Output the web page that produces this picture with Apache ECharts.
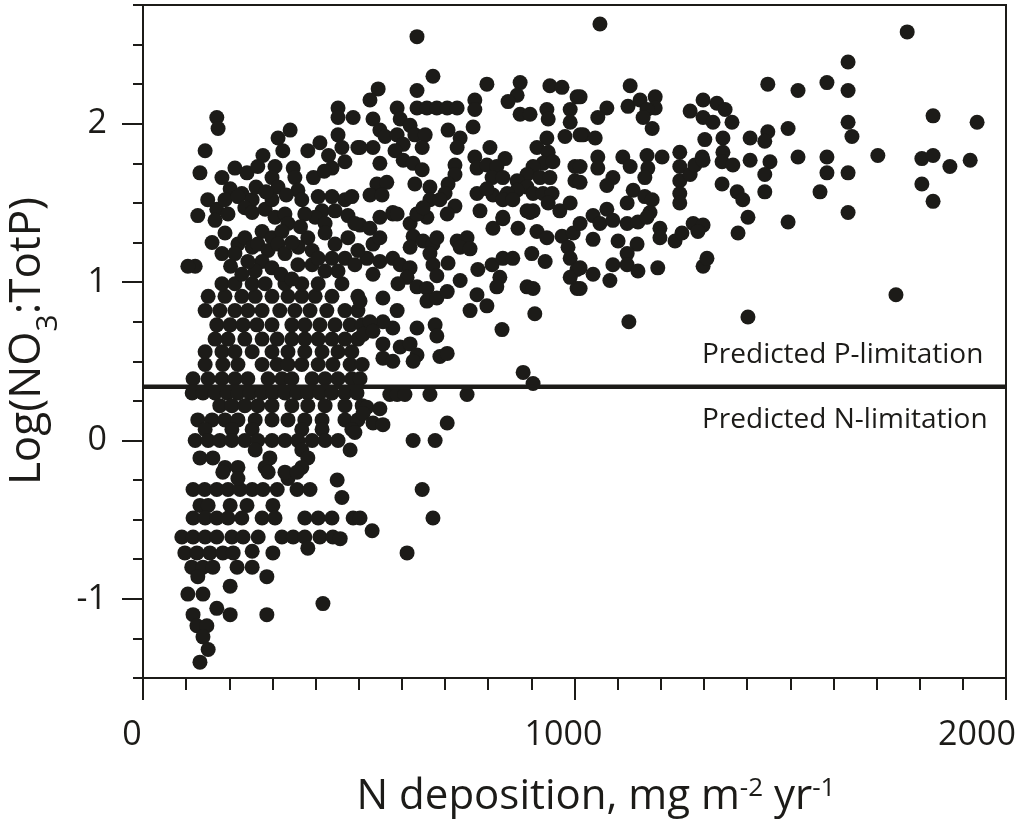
<!DOCTYPE html>
<html><head><meta charset="utf-8">
<script src="https://cdn.jsdelivr.net/npm/echarts@6/dist/echarts.min.js"></script>
<style>html,body{margin:0;padding:0;background:#fff}#c{width:1024px;height:834px}</style>
</head><body><div id="c"></div>
<script>
// ---- data (x = N deposition mg m-2 yr-1, y = log NO3:TotP) ----
const xMajorTicks = [0, 1000, 2000];
const yMajorTicks = [-1, 0, 1, 2];
const limitThreshold = 0.34;

const pointsLow = [
[116,-0.31],[143,-0.31],[171,-0.31],[197,-0.31],[225,-0.31],[253,-0.31],[278,-0.31],[311,-0.31],[357,-0.31],[387,-0.31],
[450,-0.25],[461,-0.36],
[132,-0.41],[151,-0.41],[202,-0.41],[241,-0.41],[301,-0.41],
[116,-0.49],[144,-0.49],[171,-0.49],[197,-0.49],[229,-0.49],[276,-0.49],[306,-0.49],[375,-0.49],[406,-0.49],[438,-0.49],[487,-0.49],[503,-0.49],[672,-0.49],
[90,-0.61],[116,-0.61],[144,-0.61],[171,-0.61],[206,-0.61],[232,-0.61],[267,-0.61],[322,-0.61],[348,-0.61],[375,-0.61],[410,-0.61],[440,-0.61],[457,-0.62],
[382,-0.68],[253,-0.70],[531,-0.57],[647,-0.31],
[97,-0.71],[125,-0.71],[155,-0.71],[185,-0.71],[209,-0.71],[301,-0.71],[612,-0.71],
[113,-0.80],[139,-0.80],[162,-0.80],[218,-0.80],[253,-0.80],
[127,-0.86],[287,-0.86],[202,-0.92],[104,-0.97],[139,-0.97],
[417,-1.03],[171,-1.06],[116,-1.10],[202,-1.10],[287,-1.10],
[125,-1.17],[148,-1.17],[139,-1.24],[151,-1.32],[132,-1.40]
];

const pointsNearZero = [
[114,0.3],[139,0.3],[167,0.3],[195,0.3],[220,0.3],[248,0.3],[276,0.3],[301,0.3],[329,0.3],[357,0.3],[382,0.3],[410,0.3],[438,0.3],[468,0.3],[496,0.3],[572,0.29],[589,0.29],[607,0.29],[665,0.29],[751,0.29],
[178,0.22],[206,0.22],[236,0.22],[266,0.22],[299,0.22],[345,0.22],[382,0.22],[422,0.22],[468,0.22],[508,0.22],[519,0.21],[549,0.2],
[127,0.13],[160,0.13],[190,0.13],[220,0.13],[260,0.13],[299,0.13],[336,0.13],[375,0.13],[415,0.13],[468,0.13],[498,0.13],[510,0.17],[533,0.11],[556,0.10],[705,0.11],
[144,0.07],[206,0.07],[253,0.07],[368,0.07],[415,0.07],[484,0.07],[491,0.05],
[121,0],[151,0],[178,0],[206,0],[236,0],[266,0],[299,0],[329,0],[359,0],[392,0],[422,0],[452,0],[626,0],[677,0],
[260,-0.06],[368,-0.06],[480,-0.06],
[132,-0.11],[162,-0.11],[294,-0.11],[382,-0.11],
[190,-0.17],[220,-0.17],[283,-0.17],[368,-0.17],
[220,-0.24],[336,-0.24],
[185,-0.2],[290,-0.2],[329,-0.2],[357,-0.2]
];

const pointsLeftMid = [
[116,0.39],[151,0.39],[183,0.39],[213,0.39],[243,0.39],[290,0.39],[322,0.39],[345,0.39],[392,0.39],[422,0.39],[452,0.39],[484,0.39],[503,0.39],
[144,0.48],[185,0.48],[220,0.48],[276,0.48],[311,0.48],[336,0.48],[368,0.48],[406,0.48],[440,0.48],[480,0.48],[508,0.48],
[144,0.56],[183,0.56],[213,0.56],[253,0.56],[299,0.56],[336,0.56],[375,0.56],[415,0.56],[452,0.56],[484,0.56],
[167,0.64],[197,0.64],[236,0.64],[276,0.64],[311,0.64],[345,0.64],[375,0.64],[406,0.64],[438,0.64],[468,0.64],[498,0.64],
[171,0.73],[202,0.73],[232,0.73],[264,0.73],[299,0.73],[345,0.73],[375,0.73],[410,0.73],[445,0.73],[480,0.73],[508,0.73],
[144,0.82],[178,0.82],[213,0.82],[243,0.82],[276,0.82],[317,0.82],[352,0.82],[387,0.82],[426,0.82],[468,0.82],[498,0.82],
[151,0.91],[190,0.91],[229,0.91],[260,0.91],[299,0.91],[336,0.91],[368,0.91],[399,0.91],[438,0.91],[498,0.91],
[183,0.99],[213,0.99],[253,0.99],[283,0.99],[329,0.99],[368,0.99],[406,0.99],[461,0.99]
];

const pointsCentreMid = [
[503,1.36],[526,1.34],[533,1.24],[549,1.28],[519,1.15],[549,1.13],[533,1.05],[579,1.43],[619,1.37],[626,1.29],[635,1.43],[658,1.41],[649,1.26],[672,1.24],[681,1.28],[665,1.18],[619,1.22],[579,1.15],[596,1.11],[619,1.09],[612,1.03],[591,0.99],[635,0.97],[658,0.96],[658,0.88],[681,0.90],[672,1.11],[681,1.04],[705,0.94],[707,1.12],[728,1.26],[751,1.28],[735,1.22],[758,1.21],[735,1.01],[774,0.92],[758,0.82],[797,0.85],[776,1.08],[809,1.11],[834,1.15],[857,1.15],[827,1.03],[820,0.97],[811,1.34],[834,1.40],[869,1.34],[897,1.44],[913,1.32],[936,1.28],[901,1.18],[932,1.13],[890,0.97],[904,0.96],[908,0.80],[971,1.29],[997,1.31],[985,1.22],[990,1.15],[1006,1.08],[990,1.03],[1006,0.96],
[556,0.90],[589,0.82],[579,0.71],[556,0.75],[526,0.75],[503,0.88],[510,0.67],[533,0.69],[556,0.61],[556,0.52],[579,0.50],[596,0.59],[619,0.61],[635,0.71],[635,0.54],[626,0.50],[677,0.73],[681,0.66],[688,0.53],[705,0.55],[832,0.70],[881,0.43],[904,0.36]
];

const pointsLeftHigh = [
[171,2.04],[174,1.97],[144,1.83],[132,1.69],[127,1.42],[121,1.10],[104,1.10],
[341,1.96],[313,1.91],[324,1.83],[382,1.83],[278,1.80],
[213,1.72],[241,1.69],[266,1.73],[306,1.73],[348,1.72],
[183,1.66],[202,1.59],[229,1.56],[253,1.52],
[299,1.66],[313,1.60],[352,1.66],[359,1.58],[368,1.52],
[171,1.46],[190,1.52],[220,1.54],
[167,1.39],[197,1.43],[236,1.47],[253,1.44],
[283,1.46],[299,1.52],[306,1.41],[329,1.43],[336,1.37],
[406,1.54],[438,1.54],[468,1.52],[484,1.54],
[415,1.45],[399,1.41],[445,1.45],[422,1.37],[475,1.42],[491,1.37],
[452,2.10],[452,2.04],[487,2.04],
[452,1.93],[461,1.85],[438,1.72],[468,1.76],[498,1.85],
[190,1.31],[220,1.24],[236,1.28],[183,1.18],[213,1.18],[253,1.22],
[276,1.32],[299,1.28],[322,1.32],[266,1.24],[290,1.20],[313,1.24],[329,1.18],[276,1.13],[299,1.09],[260,1.07],
[382,1.28],[392,1.20],[359,1.11],[392,1.11],[422,1.31],[445,1.24],[475,1.28],[406,1.15],[438,1.15],[468,1.15],[498,1.20],[491,1.11],[452,1.07],[422,1.07],
[243,1.13],[229,1.05],[320,1.05],[345,1.02],[360,1.22],[203,1.10],[160,1.25],[150,1.52],[262,1.60],[285,1.57],[332,1.55],[375,1.43],[395,1.66],[420,1.70],[410,1.88],[430,1.80],[365,1.35],[345,1.25]
];

const pointsCentreHigh = [
[635,2.55],[672,2.30],[635,2.21],[635,2.10],[658,2.10],[681,2.10],[705,2.10],[728,2.10],
[545,2.22],[526,2.15],[589,2.10],[596,2.03],[619,1.99],
[533,2.03],[549,1.96],[533,1.85],[561,1.92],[503,1.85],
[589,1.93],[603,1.87],[584,1.83],[630,1.93],[654,1.93],[647,1.85],[603,1.77],[626,1.75],[647,1.71],[630,1.62],
[549,1.75],[542,1.62],[565,1.63],[526,1.55],[554,1.55],[579,1.44],
[707,1.96],[735,1.91],[728,1.85],
[723,1.74],[723,1.68],[707,1.62],[700,1.56],[665,1.60],[665,1.52],[688,1.52],
[723,1.48],[705,1.43],[635,1.43],[649,1.47],
[769,2.15],[769,2.09],[765,1.98],[797,2.25],
[874,2.26],[867,2.18],[846,2.14],[874,2.06],[897,2.06],[936,2.09],[939,2.03],
[943,2.24],[971,2.23],[1006,2.17],[990,2.09],[990,2.01],[978,1.92],[1020,1.93],
[769,1.79],[804,1.85],[839,1.78],[774,1.72],[797,1.74],[820,1.73],[809,1.66],[834,1.66],
[936,1.91],[913,1.85],[939,1.82],[927,1.75],[950,1.76],[904,1.73],[890,1.68],[867,1.64],[890,1.60],[920,1.66],[943,1.66],[867,1.58],[844,1.56],[811,1.55],[774,1.56],[797,1.59],[834,1.52],[857,1.52],[904,1.56],[927,1.56],[948,1.56],[939,1.50],[966,1.45],[990,1.50],[904,1.45],[890,1.45],
[549,1.41],[589,1.43],[781,1.45],[834,1.41],[1001,1.73],[1001,1.64]
];

const pointsRight = [
[1059,2.63],[1129,2.24],[1448,2.25],[1518,2.21],[1013,2.17],[1075,2.10],[1054,2.04],
[1124,2.11],[1152,2.15],[1187,2.17],[1187,2.10],[1168,2.09],[1159,2.04],[1180,1.97],
[1013,1.93],[1048,1.91],
[1268,2.08],[1298,2.15],[1330,2.13],[1349,2.09],[1365,2.01],[1298,2.04],[1321,2.01],[1302,1.90],
[1344,1.91],[1344,1.82],[1342,1.76],[1367,1.74],
[1407,1.91],[1407,1.77],
[1448,1.95],[1441,1.89],[1453,1.76],[1441,1.68],[1441,1.57],
[1495,1.97],[1518,1.79],[1342,1.62],[1377,1.57],[1390,1.52],[1402,1.41],[1379,1.31],[1495,1.38],
[1013,1.73],[1013,1.63],[1054,1.79],[1054,1.72],[1112,1.79],[1129,1.73],[1089,1.66],[1075,1.61],
[1168,1.80],[1203,1.79],[1170,1.72],[1163,1.66],
[1244,1.82],[1244,1.73],[1244,1.64],[1244,1.56],[1244,1.50],[1268,1.68],[1279,1.74],[1296,1.79],[1298,1.77],
[1136,1.58],[1163,1.54],[1180,1.52],[1175,1.44],[1122,1.50],
[1075,1.46],[1043,1.42],[1059,1.37],[1089,1.39],[1122,1.37],[1147,1.38],[1168,1.41],
[1013,1.37],[1043,1.27],
[1101,1.26],[1145,1.24],[1122,1.18],[1089,1.11],[1122,1.11],[1147,1.07],[1082,1.01],[1043,1.05],[1013,1.09],[1013,0.96],
[1198,1.34],[1198,1.28],[1233,1.26],[1249,1.31],[1275,1.37],[1298,1.36],[1286,1.32],
[1193,1.09],[1298,1.10],[1307,1.15],[1126,0.75],[1402,0.78],
[1771,2.58],[1634,2.39],[1585,2.26],[1634,2.21],[1634,2.01],[1643,1.92],[1831,2.05],[1933,2.01],
[1585,1.79],[1585,1.69],[1634,1.69],[1569,1.57],[1634,1.44],[1703,1.80],[1805,1.78],[1831,1.80],[1870,1.73],[1917,1.77],[1805,1.62],[1831,1.51],[1745,0.92]
];

const allPoints = [].concat(pointsLow, pointsNearZero, pointsLeftMid, pointsCentreMid, pointsLeftHigh, pointsCentreHigh, pointsRight);

// ---- chart ----
const INK = '#1c1b18';
const FONT = 'Open Sans';
const chart = echarts.init(document.getElementById('c'));
const yMinorTicks = [];
for (let v = -1.5; v <= 2.751; v += 0.25) yMinorTicks.push(Math.round(v * 100) / 100);

chart.setOption({
  animation: false,
  backgroundColor: '#fff',
  grid: { left: 143, right: 18, top: 5, bottom: 156, show: true, borderColor: INK, borderWidth: 2, backgroundColor: 'transparent' },
  xAxis: [
    { type: 'value', min: 0, max: 2000, interval: 100, position: 'bottom',
      axisLine: { onZero: false, lineStyle: { color: INK, width: 2 } },
      axisTick: { length: 22, customValues: xMajorTicks, lineStyle: { color: INK, width: 2 } },
      axisLabel: { customValues: xMajorTicks, margin: 40, color: INK, fontFamily: FONT, fontSize: 34,
        formatter: v => (v === 2000 ? '{e|' + v + '}' : '{n|' + v + '}'),
        rich: { n: { fontFamily: FONT, fontSize: 34, color: INK, padding: [0, 22, 0, 0] },
                e: { fontFamily: FONT, fontSize: 34, color: INK, padding: [0, 58, 0, 0] } } },
      splitLine: { show: false } },
    { type: 'value', min: 0, max: 2000, interval: 100, position: 'bottom',
      axisLine: { show: false, onZero: false },
      axisTick: { length: 12, lineStyle: { color: INK, width: 2 } },
      axisLabel: { show: false }, splitLine: { show: false } }
  ],
  yAxis: [
    { type: 'value', min: -1.5, max: 2.75, interval: 0.25, position: 'left',
      axisLine: { onZero: false, lineStyle: { color: INK, width: 2 } },
      axisTick: { length: 21, customValues: yMajorTicks, lineStyle: { color: INK, width: 2 } },
      axisLabel: { customValues: yMajorTicks, margin: 36, color: INK, fontFamily: FONT, fontSize: 34 },
      splitLine: { show: false } },
    { type: 'value', min: -1.5, max: 2.75, interval: 0.25, position: 'left',
      axisLine: { show: false, onZero: false },
      axisTick: { length: 10, customValues: yMinorTicks, lineStyle: { color: INK, width: 2 } },
      axisLabel: { show: false }, splitLine: { show: false } }
  ],
  series: [
    { type: 'scatter', xAxisIndex: 0, yAxisIndex: 0, data: allPoints, symbol: 'circle', symbolSize: 15,
      itemStyle: { color: INK, opacity: 1 }, z: 2 },
    { type: 'line', xAxisIndex: 0, yAxisIndex: 0, data: [[0, limitThreshold], [2000, limitThreshold]],
      symbol: 'none', lineStyle: { color: INK, width: 4.5 }, z: 3, silent: true }
  ],
  graphic: [
    { type: 'text', left: 702, top: 341, style: { text: 'Predicted P-limitation', fontFamily: FONT, fontSize: 28, fill: INK } },
    { type: 'text', left: 702, top: 406, style: { text: 'Predicted N-limitation', fontFamily: FONT, fontSize: 28, fill: INK } },
    { type: 'text', x: 34, y: 341, rotation: Math.PI / 2,
      style: { text: '{m|Log(NO}{sub|3}{m|:TotP)}', align: 'center', verticalAlign: 'middle', fontFamily: FONT, fontSize: 44, fill: INK,
        rich: { m: { fontFamily: FONT, fontSize: 44, fill: INK, verticalAlign: 'bottom', padding: [0, 0, 14, 0] },
                sub: { fontFamily: FONT, fontSize: 30, fill: INK, verticalAlign: 'bottom' } } } },
    { type: 'text', x: 596, y: 797,
      style: { text: 'N deposition, mg m{sup|-2} yr{sup|-1}', align: 'center', verticalAlign: 'middle', fontFamily: FONT, fontSize: 42, fill: INK,
        rich: { sup: { fontFamily: FONT, fontSize: 26, fill: INK, verticalAlign: 'top', padding: [0, 0, 12, 0] } } } }
  ]
});
</script>
</body></html>
